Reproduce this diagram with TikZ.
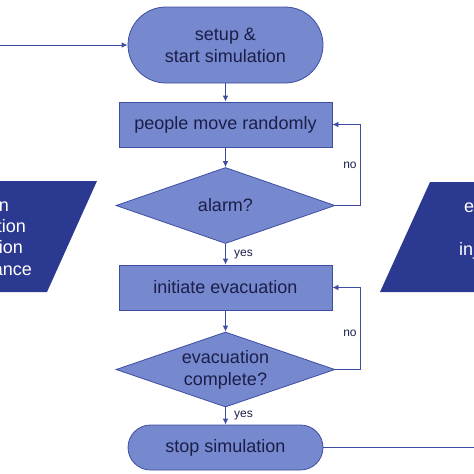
\documentclass[tikz,border=0pt]{standalone}
\usepackage{fontspec}
\setmainfont{Liberation Sans}
\usetikzlibrary{arrows.meta,positioning,shapes.geometric}
\definecolor{flowfill}{HTML}{7689CF}
\definecolor{flowline}{HTML}{3F4DA0}
\definecolor{flowtext}{HTML}{1B1E48}
\definecolor{ionavy}{HTML}{2B3990}

\begin{document}
\begin{tikzpicture}[x=1pt,y=-1pt,font=\fontsize{18pt}{22pt}\selectfont,
  flownode/.style={draw=flowline,fill=flowfill,text=flowtext,line width=0.8pt,inner sep=0pt,align=center},
  terminal/.style={flownode,rectangle,minimum width=195pt},
  process/.style={flownode,rectangle,minimum width=213pt,minimum height=45pt},
  decision/.style={flownode,diamond,aspect=2.9,minimum width=219pt,minimum height=76pt},
  flow/.style={-{Latex[length=6pt,width=5.5pt]},flowline,line width=0.8pt},
  lbl/.style={font=\fontsize{12pt}{14pt}\selectfont,text=flowtext}]
  \useasboundingbox (0,0) rectangle (474,474);
  \clip (0,0) rectangle (474,474);
  % side blocks, cut by the frame
  \fill[ionavy] (-80,181) -- (97,181) -- (47,292) -- (-80,292) -- cycle;
  \fill[ionavy] (430,182) -- (560,182) -- (560,292) -- (380,292) -- cycle;
  \foreach \t/\x/\y [count=\i] in {n/9/211,tion/26/232,ion/23/253,ance/32/275}
    \node[anchor=base east,inner sep=0pt,text=white] (inp\i) at (\x,\y) {\t};
  \node[anchor=base west,inner sep=0pt,text=white] (out1) at (464,212) {e};
  \node[anchor=base west,inner sep=0pt,text=white] (out2) at (459,255) {inj};
  % flow chart
  \node[terminal,minimum height=76pt,rounded corners=38pt] (start) at (225.5,45) {setup \&\\start simulation};
  \node[process] (move) at (225.5,124.5) {people move randomly};
  \node[decision] (alarm) at (225.5,205.5) {alarm?};
  \node[process] (evac) at (225.5,287.5) {initiate evacuation};
  \node[decision,minimum height=75pt] (done) at (225.5,369.5) {evacuation\\complete?};
  \node[terminal,minimum height=45pt,rounded corners=22.5pt] (stop) at (225.5,447.5) {stop simulation};
  \coordinate (inL) at (-5,45);
  \coordinate (outR) at (480,447.5);
  \draw[flow] (inL) -- (start);
  \draw[flow] (start) -- (move);
  \draw[flow] (move) -- (alarm);
  \draw[flow] (alarm) -- node[lbl,right=5pt]{yes} (evac);
  \draw[flow] (alarm.east) -- ++(25,0) |- node[lbl,left,pos=0.25]{no} (move.east);
  \draw[flow] (evac) -- (done);
  \draw[flow] (done) -- node[lbl,right=5pt]{yes} (stop);
  \draw[flow] (done.east) -- ++(25,0) |- node[lbl,left,pos=0.22]{no} (evac.east);
  \draw[flowline,line width=0.8pt] (stop) -- (outR);
\end{tikzpicture}
\end{document}
